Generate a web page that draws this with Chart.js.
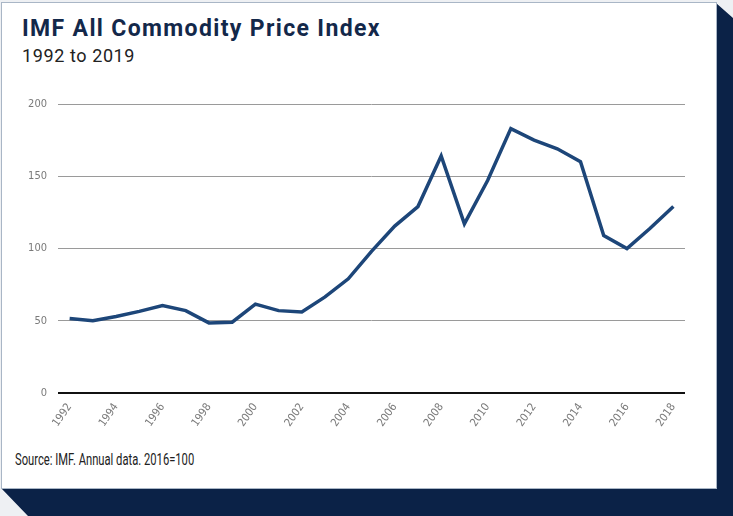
<!DOCTYPE html>
<html>
<head>
<meta charset="utf-8">
<script src="https://cdn.jsdelivr.net/npm/chart.js@4/dist/chart.umd.min.js"></script>
<style>
  html, body { margin: 0; padding: 0; }
  body { width: 733px; height: 516px; position: relative; overflow: hidden; background: #eef0f3; font-family: Roboto, 'Noto Sans', sans-serif; }
  .frame {
    position: absolute; left: 0; top: 0; width: 733px; height: 516px; background: #0b2247;
    clip-path: polygon(716px 3px, 733px 18px, 733px 516px, 28px 516px, 1px 488px, 716px 488px);
  }
  .panel {
    position: absolute; left: 1px; top: 2px; width: 714px; height: 485px;
    background: #fff; border: 1px solid #a9b6c6;
  }
  .title { position: absolute; left: 22px; top: 15px; font-size: 23px; font-weight: 700; color: #13284a; letter-spacing: 1.35px; white-space: nowrap; }
  .subtitle { position: absolute; left: 22px; top: 45px; font-size: 18px; color: #222; letter-spacing: 0.6px; white-space: nowrap; }
  .source { position: absolute; left: 15px; top: 450px; font-size: 16px; color: #222; white-space: nowrap; transform: scaleX(0.7); transform-origin: left top; }
  #wrap { position: absolute; left: 0; top: 0; width: 733px; height: 516px; }
</style>
</head>
<body>
<div class="frame"></div>
<div class="panel"></div>
<div class="title">IMF All Commodity Price Index</div>
<div class="subtitle">1992 to 2019</div>
<div class="source">Source: IMF. Annual data. 2016=100</div>
<div id="wrap"><canvas id="chart" width="733" height="516"></canvas></div>
<script>
const years = [1992, 1993, 1994, 1995, 1996, 1997, 1998, 1999, 2000, 2001, 2002, 2003, 2004, 2005,
  2006, 2007, 2008, 2009, 2010, 2011, 2012, 2013, 2014, 2015, 2016, 2017, 2018];
const priceIndex = [51.5, 50, 53, 56.5, 60.5, 57, 48.5, 49, 61.5, 57, 56, 66.5, 79, 98,
  115.5, 129, 164, 117, 147, 183, 175, 169, 160, 109, 100, 114, 129];
const yTicks = [0, 50, 100, 150, 200];

const axisFont = { family: "'Liberation Sans Narrow', 'DejaVu Sans Condensed', 'Roboto', sans-serif", size: 11 };

new Chart(document.getElementById('chart'), {
  type: 'line',
  data: {
    labels: years.map(String),
    datasets: [{
      data: priceIndex,
      borderColor: '#1d4679',
      borderWidth: 3.5,
      pointRadius: 0,
      tension: 0,
      fill: false,
    }],
  },
  options: {
    responsive: false,
    animation: false,
    layout: { padding: { left: 0, right: 48, top: 104, bottom: 78 } },
    plugins: { legend: { display: false }, tooltip: { enabled: false } },
    scales: {
      x: {
        offset: true,
        grid: { display: false, drawTicks: false },
        border: { display: false },
        ticks: {
          autoSkip: false,
          minRotation: 55,
          maxRotation: 55,
          color: '#7a7a7a',
          font: axisFont,
          padding: 8,
          callback: (v, i) => (years[i] % 2 === 0 ? String(years[i]) : ''),
        },
        afterFit: (s) => { s.height = 45; },
      },
      y: {
        min: 0,
        max: 200,
        afterBuildTicks: (s) => { s.ticks = yTicks.map((v) => ({ value: v })); },
        grid: {
          drawTicks: false,
          color: '#9a9a9a',
          lineWidth: (ctx) => (ctx.tick && ctx.tick.value === 0 ? 2 : 1),
        },
        border: { display: false },
        ticks: { color: '#7a7a7a', font: axisFont, padding: 11 },
        afterFit: (s) => { s.width = 58; },
      },
    },
  },
  plugins: [{
    id: 'zeroLine',
    afterDraw(chart) {
      const { ctx, chartArea, scales } = chart;
      const y = scales.y.getPixelForValue(0);
      ctx.save();
      ctx.strokeStyle = '#111';
      ctx.lineWidth = 2;
      ctx.beginPath();
      ctx.moveTo(chartArea.left, y);
      ctx.lineTo(chartArea.right, y);
      ctx.stroke();
      ctx.restore();
    },
  }],
});
</script>
</body>
</html>
